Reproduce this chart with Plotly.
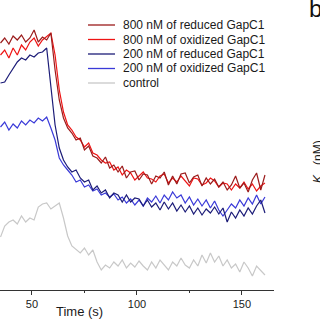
import plotly.graph_objects as go

# Time axis (s)
time_s = list(range(35, 162, 2))

series_names = [
    "800 nM of reduced GapC1",
    "800 nM of oxidized GapC1",
    "200 nM of reduced GapC1",
    "200 nM of oxidized GapC1",
    "control",
]
series_colors = ["#9B1B1B", "#EE1414", "#1C1C78", "#3A3AD8", "#C8C8C8"]

red_800 = [247, 252, 246, 254, 250, 255, 248, 252, 260, 248, 253, 250, 257,
           220, 190, 172, 162, 157, 150, 152, 140, 144, 134, 132, 127, 133, 122,
           125, 118, 124, 112, 118, 119, 110, 116, 115, 106, 114, 112, 118, 105,
           114, 106, 116, 117, 107, 113, 115, 104, 112, 106, 111, 103, 108, 100,
           105, 114, 102, 107, 98, 110, 117, 100, 115]
ox_800 = [235, 240, 232, 242, 235, 245, 240, 248, 252, 244, 250, 254, 257,
          235, 200, 178, 165, 160, 153, 150, 143, 147, 137, 135, 130, 127, 128,
          120, 123, 115, 120, 117, 110, 114, 118, 112, 111, 108, 114, 116, 107,
          112, 108, 114, 109, 104, 112, 111, 105, 107, 112, 109, 103, 107, 106,
          100, 106, 102, 108, 101, 106, 99, 104, 107]
red_200 = [207, 208, 215, 222, 228, 232, 230, 235, 233, 237, 238, 242, 200,
           165, 142, 130, 123, 118, 120, 112, 108, 110, 100, 104, 97, 100, 92,
           97, 95, 88, 95, 88, 92, 91, 84, 90, 83, 87, 80, 88, 81, 87, 79, 85,
           78, 84, 76, 82, 75, 81, 77, 83, 76, 82, 68, 78, 72, 80, 74, 82, 76,
           84, 90, 77]
ox_200 = [163, 168, 160, 166, 162, 169, 165, 170, 167, 172, 169, 173, 162,
          150, 132, 125, 120, 115, 108, 110, 103, 105, 99, 101, 95, 97, 93, 96,
          90, 93, 87, 91, 85, 90, 84, 92, 88, 94, 87, 95, 90, 98, 92, 95, 87,
          93, 85, 91, 84, 90, 82, 89, 80, 74, 80, 86, 82, 90, 84, 92, 86, 95,
          86, 93]
control = [53, 64, 68, 70, 66, 74, 68, 72, 70, 83, 86, 87, 81, 84, 87, 72, 54,
           44, 40, 37, 42, 35, 40, 28, 20, 25, 22, 28, 24, 30, 22, 27, 23, 29,
           24, 20, 28, 22, 30, 25, 20, 28, 24, 32, 25, 22, 30, 24, 35, 27, 37,
           28, 34, 24, 30, 22, 26, 18, 28, 22, 14, 24, 20, 15]

series_values = [red_800, ox_800, red_200, ox_200, control]

x_ticks = [50, 100, 150]

fig = go.Figure()
# draw control first so coloured lines are on top
for i in [4, 3, 2, 1, 0]:
    fig.add_trace(go.Scatter(
        x=time_s, y=series_values[i], mode="lines", name=series_names[i],
        line=dict(color=series_colors[i], width=1.2), showlegend=False,
    ))

W_PLOT = 274.0
H_PLOT = 290.0

def px(x):
    return x / W_PLOT

def py(y):
    return 1 - y / H_PLOT

# manual legend
for i, (name, col) in enumerate(zip(series_names, series_colors)):
    yy = 25 + 14.5 * i
    fig.add_shape(type="line", xref="paper", yref="paper",
                  x0=px(88), x1=px(115), y0=py(yy), y1=py(yy),
                  line=dict(color=col, width=1.3))
    fig.add_annotation(xref="paper", yref="paper", x=px(121), y=py(yy),
                       text=name, showarrow=False, xanchor="left", yanchor="middle",
                       font=dict(family="Arial", size=12, color="#1a1a1a"))

fig.add_annotation(xref="paper", yref="paper", x=px(79), y=py(311),
                   text="Time (s)", showarrow=False, xanchor="center", yanchor="middle",
                   font=dict(family="Arial", size=13, color="#1a1a1a"))
fig.add_annotation(xref="paper", yref="paper", x=px(307), y=py(9),
                   text="b", showarrow=False, xanchor="left", yanchor="middle",
                   font=dict(family="Arial", size=24, color="#111"))
fig.add_annotation(xref="paper", yref="paper", x=px(318), y=py(162),
                   text="<i>K</i>   (nM)", showarrow=False, textangle=-90,
                   xanchor="center", yanchor="middle",
                   font=dict(family="Arial", size=12, color="#1a1a1a"))

fig.update_layout(
    width=320, height=320,
    margin=dict(l=0, r=46, t=0, b=30),
    paper_bgcolor="white", plot_bgcolor="white",
    xaxis=dict(range=[34.76, 165.3], tickvals=x_ticks, showline=True,
               linecolor="#333", linewidth=1, ticks="outside", ticklen=4,
               tickcolor="#333", showgrid=False, zeroline=False,
               tickfont=dict(family="Arial", size=11, color="#1a1a1a"),
               minor=dict(tickvals=[75, 125], ticks="outside", ticklen=2, tickcolor="#333")),
    yaxis=dict(range=[0, 290], visible=False, showgrid=False, zeroline=False),
    showlegend=False,
)

fig.write_html("out.html")
